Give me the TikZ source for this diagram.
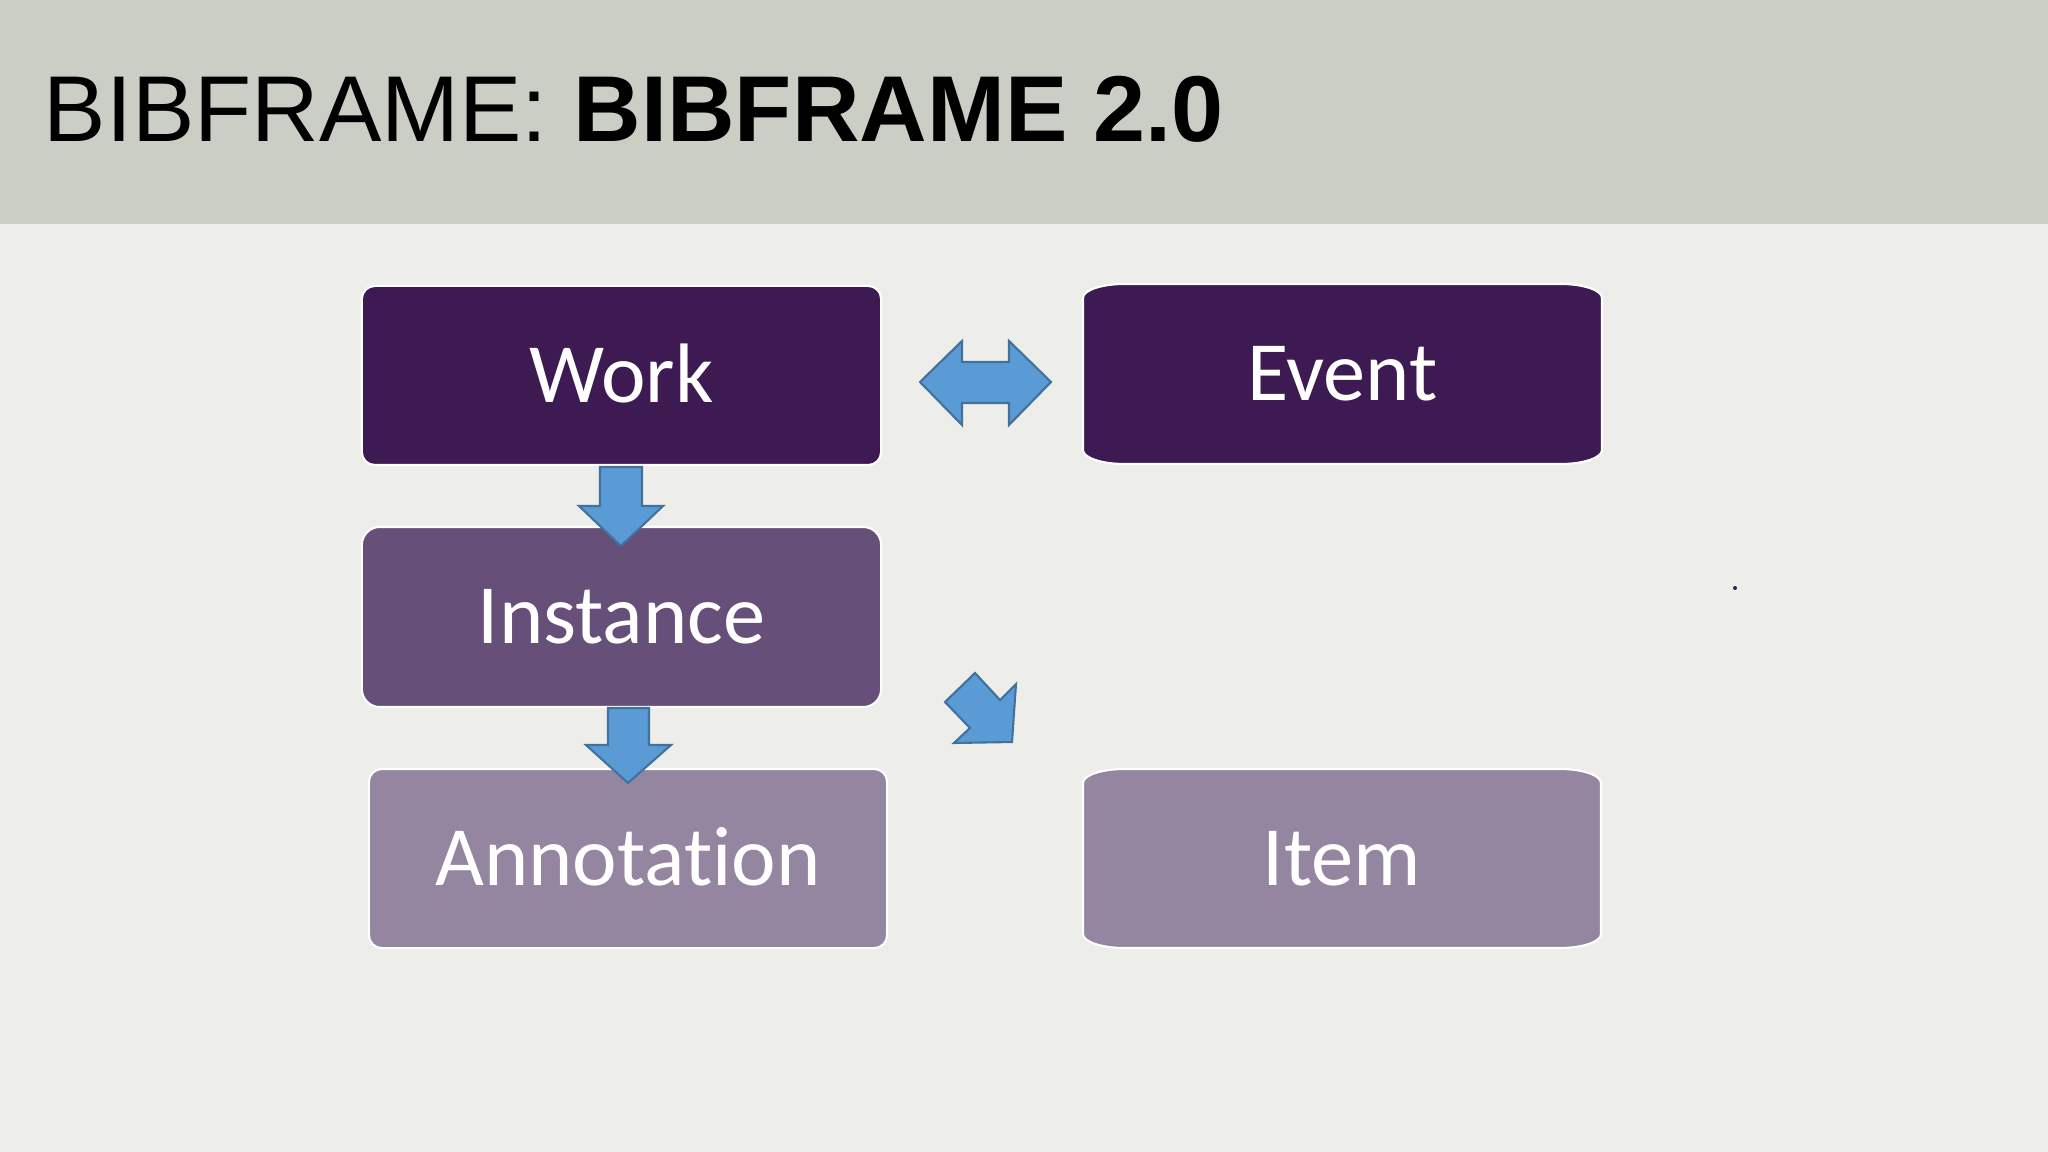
\documentclass[tikz,border=0pt]{standalone}
\usepackage{fontspec}
\setmainfont{Liberation Sans}
\newfontfamily\boxfont[Ligatures=NoCommon]{Carlito}
\definecolor{hdr}{HTML}{CBCEC4}
\definecolor{bodybg}{HTML}{EDEEEA}
\definecolor{darkp}{HTML}{3D1A52}
\definecolor{midp}{HTML}{664F78}
\definecolor{lightp}{HTML}{9485A0}
\definecolor{arrfill}{HTML}{5B9BD5}
\definecolor{arrline}{HTML}{41719C}
\tikzset{
  box/.style={rectangle, inner sep=0pt, outer sep=0pt, draw=white, line width=0.6pt,
    minimum width=5.19cm, minimum height=1.79cm, text=white,
    font=\boxfont\fontsize{24}{28}\selectfont, text height=15.2pt, text depth=0pt},
  plainbox/.style={box, draw=none},
  blockarrow/.style={fill=arrfill, draw=arrline, line width=0.6pt, line join=miter},
  ellshape/.style={draw=white, line width=0.6pt},
}
\begin{document}
\begin{tikzpicture}[x=0.01cm, y=-0.01cm]
\useasboundingbox (0,0) rectangle (2048,1152);
\fill[bodybg] (0,0) rectangle (2048,1152);
\fill[hdr] (0,0) rectangle (2048,224);
\node[anchor=base west, inner sep=0pt, font=\fontsize{26.6}{32}\selectfont] (title) at (43,142) {BIBFRAME: \textbf{BIBFRAME 2.0}};

% Boxes
\node[box, fill=darkp, rounded corners=0.13cm] (work) at (621.5,375.5) {Work};
\node[box, fill=midp, rounded corners=0.18cm, minimum height=1.80cm] (instance) at (621.5,617) {Instance};
\node[box, fill=lightp, rounded corners=0.13cm, minimum width=5.18cm] (annotation) at (628,858.5) {Annotation};

\path[ellshape, fill=darkp] (1124,284) -- (1561,284) .. controls (1583.6,284) and (1602,290.3) .. (1602,298) -- (1602,450) .. controls (1602,457.7) and (1583.6,464) .. (1561,464) -- (1124,464) .. controls (1101.4,464) and (1083,457.7) .. (1083,450) -- (1083,298) .. controls (1083,290.3) and (1101.4,284) .. (1124,284) -- cycle;
\node[plainbox, minimum height=1.80cm] (event) at (1342.5,374) {Event};

\path[ellshape, fill=lightp] (1124,769) -- (1560,769) .. controls (1582.6,769) and (1601,775.3) .. (1601,783) -- (1601,934) .. controls (1601,941.7) and (1582.6,948) .. (1560,948) -- (1124,948) .. controls (1101.4,948) and (1083,941.7) .. (1083,934) -- (1083,783) .. controls (1083,775.3) and (1101.4,769) .. (1124,769) -- cycle;
\node[plainbox, minimum width=5.18cm] (item) at (1342,858.5) {Item};

% Block arrows
\path[blockarrow] (600,467) -- (642,467) -- (642,506) -- (663,506) -- (621,546) -- (579,506) -- (600,506) -- cycle;
\path[blockarrow] (608,708) -- (649,708) -- (649,745) -- (671,745) -- (628,783) -- (586,745) -- (608,745) -- cycle;
\path[blockarrow] (920,382) -- (962,341) -- (962,362) -- (1009,362) -- (1009,341) -- (1051,382) -- (1009,425) -- (1009,403) -- (962,403) -- (962,425) -- cycle;
\path[blockarrow] (975,673) -- (1000,700) -- (1016,684) -- (1012,742) -- (954,743) -- (970,728) -- (945,702) -- cycle;

% stray dot
\fill[darkp] (1735,588) circle (2);
\end{tikzpicture}
\end{document}
